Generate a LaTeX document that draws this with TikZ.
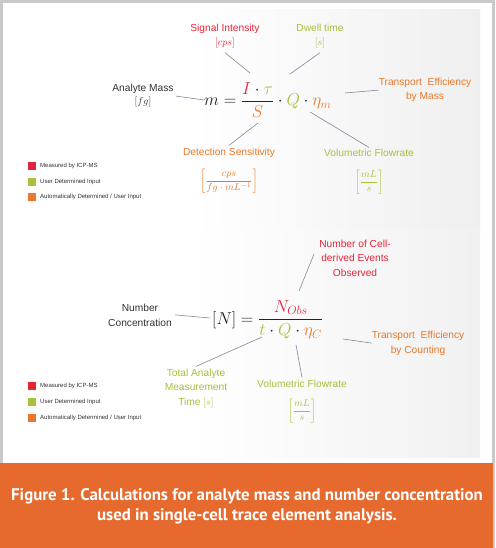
\documentclass[tikz,border=0pt]{standalone}
\usepackage[no-math]{fontspec}
\setmainfont{Liberation Sans}
\newfontfamily\capfont{PT Sans}
\usepackage{amsmath}
\definecolor{cred}{HTML}{E2263A}
\definecolor{cgreen}{HTML}{A8C03C}
\definecolor{corange}{HTML}{E8782A}
\definecolor{cband}{HTML}{E66A2E}
\definecolor{cframe}{HTML}{C9C9C9}
\definecolor{cpanel}{HTML}{E2E2E2}
\definecolor{cpanelb}{HTML}{E5E5E5}
\definecolor{clead}{HTML}{7C8A9E}
\definecolor{ctext}{HTML}{333333}
\definecolor{ceq}{HTML}{222222}
\pgfdeclarehorizontalshading{panelshade}{100bp}{color(0bp)=(white); color(45bp)=(white); color(100bp)=(cpanel)}
\pgfdeclarehorizontalshading{panelshadeb}{100bp}{color(0bp)=(white); color(45bp)=(white); color(100bp)=(cpanelb)}
\begin{document}
\begin{tikzpicture}[x=1pt,y=-1pt,
  lbl/.style={font=\fontsize{10.2}{14.5}\selectfont, align=center, inner sep=0pt},
  lead/.style={draw=clead, line width=0.6pt},
  eq/.style={font=\fontsize{18}{22}\selectfont, inner sep=0pt, text=ceq},
  unit/.style={font=\fontsize{10}{12}\selectfont, inner sep=0pt},
  legsq/.style={minimum size=8pt, inner sep=0pt},
  legtxt/.style={font=\fontsize{6}{7}\selectfont, text=ctext, anchor=west, inner sep=0pt},
  captxt/.style={font=\capfont\bfseries\fontsize{16.8}{19.5}\selectfont, text=white, align=center, inner sep=0pt}]
\useasboundingbox (0,0) rectangle (495,548);
% frame and panels
\fill[cframe] (0,0) rectangle (495,548);
\fill[white] (3,3) rectangle (492,548);
\shade[shading=panelshade] (3,10) rectangle (480,229);
\shade[shading=panelshadeb] (3,229) rectangle (480,457);
\fill[cband] (0,463) rectangle (493,548);

% ---------- top equation ----------
\node[eq, anchor=base west] (eqA) at (204,106) {$\displaystyle m=\frac{\textcolor{cred}{I}\cdot\textcolor{cgreen}{\tau}}{\textcolor{corange}{S}}\cdot\textcolor{cgreen}{Q}\cdot\textcolor{corange}{\eta_m}$};
\coordinate (aI) at (250,73);
\coordinate (aTau) at (290,74);
\coordinate (aM) at (204,100);
\coordinate (aEta) at (345,93);
\coordinate (aS) at (258,123);
\coordinate (aQ) at (310,112);

\node[lbl, text=cred, anchor=base] (sigI) at (225,46) {Signal Intensity\\$[cps]$};
\node[lbl, text=cgreen, anchor=base] (dwell) at (320,46) {Dwell time\\$[s]$};
\node[lbl, text=ctext, anchor=base, font=\fontsize{10.2}{13}\selectfont] (amass) at (143,105) {Analyte Mass\\$[fg]$};
\node[lbl, text=corange, anchor=base] (tmass) at (425,100) {Transport\ \ Efficiency\\by Mass};
\node[lbl, text=corange, anchor=base] (detS) at (229,156) {Detection Sensitivity};
\node[unit, text=corange] (detU) at (229,181) {$\left[\dfrac{cps}{fg\cdot mL^{-1}}\right]$};
\node[lbl, text=cgreen, anchor=base] (volF) at (369,157) {Volumetric Flowrate};
\node[unit, text=cgreen] (volU) at (369,182) {$\left[\dfrac{mL}{s}\right]$};

\draw[lead] (sigI.south) ++(0,4) -- (aI);
\draw[lead] (dwell.south) ++(0,4) -- (aTau);
\draw[lead] (amass.east) ++(2,0) -- (aM);
\draw[lead] (tmass.west) -- (aEta);
\draw[lead] (detS.north) ++(0,-3) -- (aS);
\draw[lead] (volF.north) ++(0,-2) -- (aQ);

% legend top
\node[legsq, fill=cred] (lr1) at (31.5,166) {};
\node[legsq, fill=cgreen] (lg1) at (31.5,181.5) {};
\node[legsq, fill=corange] (lo1) at (31.5,197) {};
\node[legtxt] (tr1) at (40,166) {Measured by ICP-MS};
\node[legtxt] (tg1) at (40,181.5) {User Determined Input};
\node[legtxt] (to1) at (40,197) {Automatically Determined / User Input};

% ---------- bottom equation ----------
\node[eq, anchor=base west, font=\fontsize{18.8}{23}\selectfont] (eqB) at (212,324) {$\displaystyle [N]=\frac{\textcolor{cred}{N_{Obs}}}{\textcolor{cgreen}{t}\cdot\textcolor{cgreen}{Q}\cdot\textcolor{corange}{\eta_C}}$};
\coordinate (bN) at (299,291);
\coordinate (bBr) at (210,318);
\coordinate (bEta) at (343,339);
\coordinate (bT) at (262,337);
\coordinate (bQ) at (296,345);

\node[lbl, text=cred, anchor=base] (nObs) at (355,276) {Number of Cell-\\derived Events\\Observed};
\node[lbl, text=ctext, anchor=base, font=\fontsize{10.2}{15}\selectfont] (nconc) at (140,326) {Number\\Concentration};
\node[lbl, text=corange, anchor=base] (tcount) at (418,353) {Transport\ \ Efficiency\\by Counting};
\node[lbl, text=cgreen, anchor=base] (tat) at (196,405) {Total Analyte\\Measurement\\Time $[s]$};
\node[lbl, text=cgreen, anchor=base] (volF2) at (302,387) {Volumetric Flowrate};
\node[unit, text=cgreen] (volU2) at (302,411) {$\left[\dfrac{mL}{s}\right]$};

\draw[lead] (nObs.west) ++(-5,-4) -- (bN);
\draw[lead] (nconc.east) ++(3,0) -- (bBr);
\draw[lead] (tcount.west) -- (bEta);
\draw[lead] (tat.north) ++(0,-2) -- (bT);
\draw[lead] (volF2.north) ++(0,-2) -- (bQ);

% legend bottom
\node[legsq, fill=cred] (lr2) at (31.5,386) {};
\node[legsq, fill=cgreen] (lg2) at (31.5,401.5) {};
\node[legsq, fill=corange] (lo2) at (31.5,418) {};
\node[legtxt] (tr2) at (40,386) {Measured by ICP-MS};
\node[legtxt] (tg2) at (40,401.5) {User Determined Input};
\node[legtxt] (to2) at (40,418) {Automatically Determined / User Input};

% caption
\node[captxt, anchor=base] (cap) at (247,520) {Figure 1. Calculations for analyte mass and number concentration\\used in single-cell trace element analysis.};
\end{tikzpicture}
\end{document}
